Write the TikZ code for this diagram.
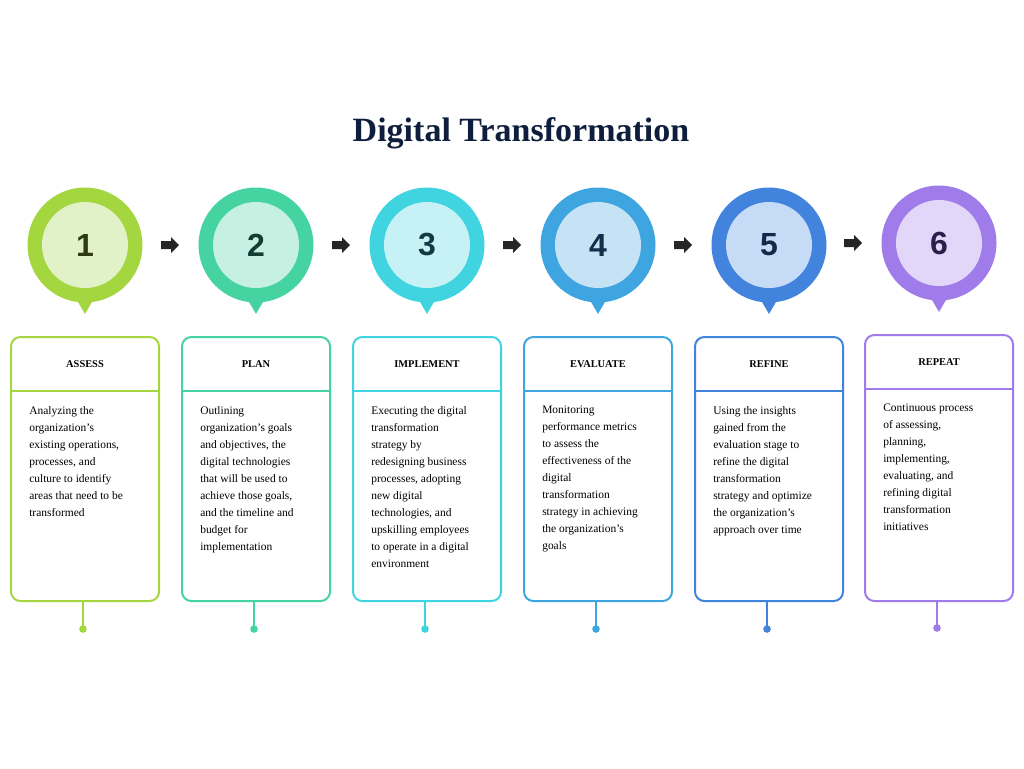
\documentclass[tikz,border=0pt]{standalone}
\usepackage{fontspec}
\setmainfont{Liberation Serif}
\newfontfamily\numfont{Liberation Sans}
\begin{document}
\begin{tikzpicture}[x=0.75pt,y=-0.75pt,
  body/.style={anchor=north west,align=left,inner sep=0,font=\fontsize{8.6}{12.75}\selectfont},
  head/.style={font=\fontsize{7.8}{9}\selectfont\bfseries},
  num/.style={font=\fontsize{24}{26}\selectfont\numfont\bfseries},
  arr/.style={fill=black!85}]
\useasboundingbox (0,0) rectangle (1024,768);
\definecolor{titlec}{HTML}{0F1E3C}
\definecolor{cA}{HTML}{A3D63F}\definecolor{iA}{HTML}{E2F2C8}\definecolor{nA}{HTML}{2E3B12}
\definecolor{cB}{HTML}{45D3A2}\definecolor{iB}{HTML}{C6F0E2}\definecolor{nB}{HTML}{123D33}
\definecolor{cC}{HTML}{40D4E0}\definecolor{iC}{HTML}{C6F1F5}\definecolor{nC}{HTML}{123A44}
\definecolor{cD}{HTML}{3FA5E0}\definecolor{iD}{HTML}{C6E3F6}\definecolor{nD}{HTML}{12304A}
\definecolor{cE}{HTML}{4283DD}\definecolor{iE}{HTML}{C6DBF5}\definecolor{nE}{HTML}{14284A}
\definecolor{cF}{HTML}{A07BEA}\definecolor{iF}{HTML}{E2D7F8}\definecolor{nF}{HTML}{2A1F4A}
\node[font=\fontsize{25.5}{28}\selectfont\bfseries,text=titlec] (title) at (521,133) {Digital Transformation};
\foreach \i/\cx/\dy/\c/\lab/\txt in {
1/85/0/A/ASSESS/{Analyzing the\\organization's\\existing operations,\\processes, and\\culture to identify\\areas that need to be\\transformed},
2/256/0/B/PLAN/{Outlining\\organization's goals\\and objectives, the\\digital technologies\\that will be used to\\achieve those goals,\\and the timeline and\\budget for\\implementation},
3/427/0/C/IMPLEMENT/{Executing the digital\\transformation\\strategy by\\redesigning business\\processes, adopting\\new digital\\technologies, and\\upskilling employees\\to operate in a digital\\environment},
4/598/0/D/EVALUATE/{Monitoring\\performance metrics\\to assess the\\effectiveness of the\\digital\\transformation\\strategy in achieving\\the organization's\\goals},
5/769/0/E/REFINE/{Using the insights\\gained from the\\evaluation stage to\\refine the digital\\transformation\\strategy and optimize\\the organization's\\approach over time},
6/939/-2/F/REPEAT/{Continuous process\\of assessing,\\planning,\\implementing,\\evaluating, and\\refining digital\\transformation\\initiatives}}{
  \fill[c\c] (\cx-11,245+\dy+50) -- (\cx,245+\dy+69) -- (\cx+11,245+\dy+50) -- cycle;
  \fill[c\c] (\cx,245+\dy) circle (57.5);
  \fill[i\c] (\cx,245+\dy) circle (43);
  \node[num,text=n\c] (n\i) at (\cx,245+\dy) {\i};
  \draw[c\c,line width=1.5pt,rounded corners=7] (\cx-74,337+\dy) rectangle (\cx+74,601);
  \draw[c\c,line width=1.5pt] (\cx-74,391+\dy) -- (\cx+74,391+\dy);
  \node[head] (h\i) at (\cx,364+\dy) {\lab};
  \node[body] (b\i) at (\cx-56,406+\dy) {\txt};
  \coordinate (s\i) at (\cx-2,601);
  \fill[c\c] (\cx-2,629+\dy/2) circle (3.8);
  \draw[c\c,line width=1.2pt] (s\i) -- (\cx-2,629+\dy/2);
}
\foreach \ax/\ay in {170/245,341/245,512/245,683/245,853/243}{
  \fill[arr] (\ax-9,\ay-4) -- (\ax+1,\ay-4) -- (\ax+1,\ay-8) -- (\ax+9,\ay) -- (\ax+1,\ay+8) -- (\ax+1,\ay+4) -- (\ax-9,\ay+4) -- cycle;
}
\end{tikzpicture}
\end{document}
